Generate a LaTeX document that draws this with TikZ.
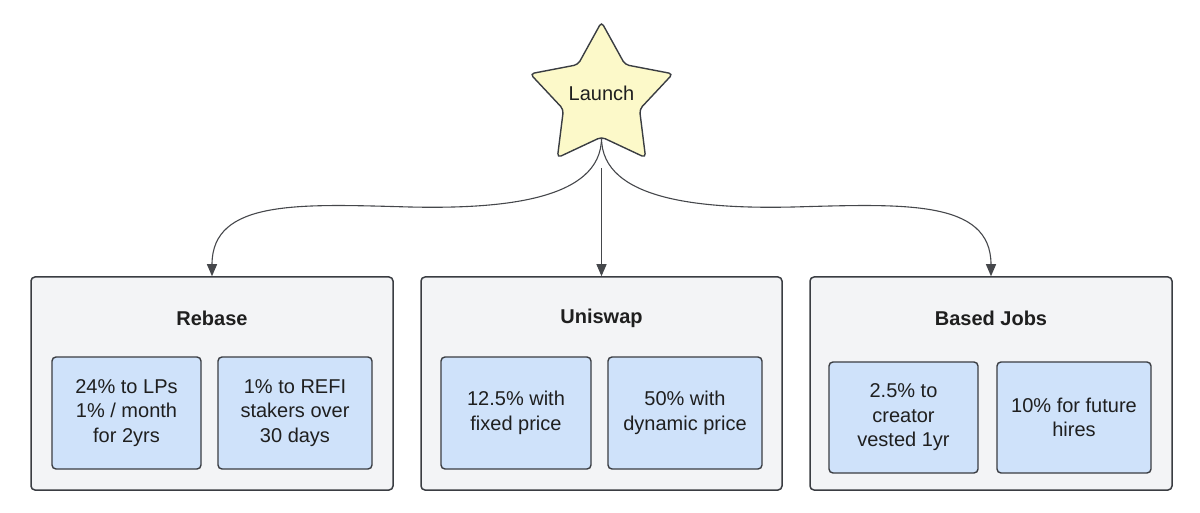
\documentclass[tikz,border=0pt]{standalone}
\usepackage{fontspec}
\setmainfont{Liberation Sans}
\usetikzlibrary{shapes.geometric,arrows.meta}
\definecolor{starfill}{HTML}{FCF9C9}
\definecolor{grpfill}{HTML}{F3F4F6}
\definecolor{itemfill}{HTML}{CFE2FA}
\definecolor{edgecol}{HTML}{3A3D42}
\definecolor{linecol}{HTML}{45474B}
\begin{document}
\begin{tikzpicture}[x=1pt,y=-1pt,
  txt/.style={font=\fontsize{20}{24.5}\selectfont, text=black!88, align=center},
  grp/.style={draw=edgecol, line width=1.5pt, fill=grpfill, rounded corners=4pt, minimum height=213pt, inner sep=0pt},
  item/.style={txt, draw=edgecol, line width=1.4pt, fill=itemfill, rounded corners=4pt, inner sep=0pt},
  grptitle/.style={txt, font=\fontsize{20}{24.5}\selectfont\bfseries},
  conn/.style={draw=linecol, line width=1.1pt, -{Triangle[width=10pt,length=12pt]}},
  launchstar/.style={star, star points=5, star point ratio=1.875, minimum size=150pt, inner sep=0pt,
    draw=edgecol, line width=1.4pt, fill=starfill, rounded corners=4pt, txt}
]
\useasboundingbox (0,0) rectangle (1200,513);

% star
\node[launchstar] (star) at (601.5,97) {};
\node[txt] (launchtxt) at (601.5,93) {Launch};

% groups
\node[grp, minimum width=362pt] (rebase) at (212,383.5) {};
\node[grp, minimum width=361pt] (uni) at (601.5,383.5) {};
\node[grp, minimum width=362pt] (based) at (991,383.5) {};

\node[grptitle] (rebaseT) at (212,318) {Rebase};
\node[grptitle] (uniT) at (601.5,318) {Uniswap};
\node[grptitle] (basedT) at (991,318) {Based Jobs};

% items
\node[item, minimum width=149pt, minimum height=112pt] (r1) at (126.5,413) {24\% to LPs\\1\% / month\\for 2yrs};
\node[item, minimum width=154pt, minimum height=112pt] (r2) at (295,413) {1\% to REFI\\stakers over\\30 days};
\node[item, minimum width=150pt, minimum height=112pt] (u1) at (516,413) {12.5\% with\\fixed price};
\node[item, minimum width=154pt, minimum height=112pt] (u2) at (685,413) {50\% with\\dynamic price};
\node[item, minimum width=149pt, minimum height=111pt] (b1) at (903.5,417.5) {2.5\% to\\creator\\vested 1yr};
\node[item, minimum width=154pt, minimum height=111pt] (b2) at (1074,417.5) {10\% for future\\hires};

% connectors
\coordinate (ml) at (410,207);
\coordinate (mr) at (793,207);
\draw[conn] (star.south) .. controls +(0,63) and +(90,2) .. (ml)
  .. controls +(-110,-3) and +(0,-77) .. (rebase.north);
\draw[conn] (star.south) .. controls +(0,63) and +(-90,2) .. (mr)
  .. controls +(110,-3) and +(0,-77) .. (based.north);
\draw[conn, shorten <=30pt] (star.south) -- (uni.north);
\end{tikzpicture}
\end{document}
